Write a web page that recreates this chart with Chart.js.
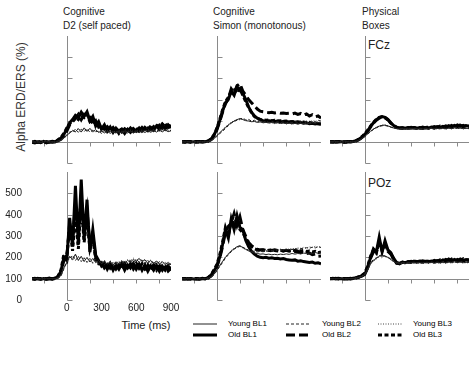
<!DOCTYPE html>
<html>
<head>
<meta charset="utf-8">
<script src="https://cdn.jsdelivr.net/npm/chart.js@4.4.1/dist/chart.umd.min.js"></script>
<style>
  body{margin:0;background:#fff;font-family:"Liberation Sans",Arial,Helvetica,sans-serif;color:#222}
  #fig{position:relative;width:474px;height:366px;overflow:hidden}
  canvas.p{position:absolute}
  .ttl{position:absolute;font-size:10px;line-height:14px;white-space:nowrap}
  .el{position:absolute;font-size:12px;line-height:14px}
  #ylab{position:absolute;left:21px;top:97px;font-size:12px;color:#333;white-space:nowrap;transform:translate(-50%,-50%) rotate(-90deg)}
  #xlab{position:absolute;left:146px;top:325px;font-size:11px;white-space:nowrap;transform:translate(-50%,-50%)}
  .tk{position:absolute;font-size:10px;line-height:12px;white-space:nowrap}
  .lg{position:absolute;font-size:8px;line-height:10px;white-space:nowrap;color:#000}
  .lg svg{position:absolute;left:0;top:0}
</style>
</head>
<body>
<div id="fig">
  <div class="ttl" style="left:63px;top:5px">Cognitive<br>D2 (self paced)</div>
  <div class="ttl" style="left:213px;top:5px">Cognitive<br>Simon (monotonous)</div>
  <div class="ttl" style="left:362px;top:5px">Physical<br>Boxes</div>
  <div class="el" style="left:368px;top:38px">FCz</div>
  <div class="el" style="left:368px;top:176px">POz</div>
  <div id="ylab">Alpha ERD/ERS (%)</div>
  <div id="xlab">Time (ms)</div>
  <div id="legend"></div>
</div>
<script>
// time axis (ms), one sample every 25 ms
const TIME = [-300,-275,-250,-225,-200,-175,-150,-125,-100,
  -75,-50,-25,0,25,50,75,100,125,150,
  175,200,225,250,275,300,325,350,375,400,
  425,450,475,500,525,550,575,600,625,650,
  675,700,725,750,775,800,825,850,875,900];

const X_TICKS = [-200,200,400,600,800];
const Y_TICKS = [0,100,200,300,400,500];
const X_LABELS = [0,300,600,900];
const Y_LABELS = [0,100,200,300,400,500];

const SERIES_NAMES = ["Young BL1","Young BL2","Young BL3","Old BL1","Old BL2","Old BL3"];

// ---- D2, FCz
const D2_FCZ_Y1 = [100,98,101,97,100,102,98,100,99,
  103,108,118,130,142,152,148,162,146,166,
  150,164,148,158,144,152,142,150,140,148,
  142,150,140,148,142,150,141,149,143,151,
  144,152,145,153,146,155,147,156,148,152];
const D2_FCZ_Y2 = [99,101,98,100,97,101,100,98,101,
  104,110,120,133,146,150,158,145,160,148,
  162,145,155,148,150,140,152,145,150,142,
  150,145,152,143,150,146,154,145,152,147,
  155,148,156,150,158,150,160,152,158,153];
const D2_FCZ_Y3 = [101,99,100,98,102,99,101,100,98,
  102,107,116,128,140,155,145,165,150,160,
  148,160,145,155,148,154,146,152,145,150,
  147,153,146,152,148,155,147,154,149,156,
  150,157,151,158,152,160,150,158,152,155];
const D2_FCZ_O1 = [98,95,100,96,102,97,99,103,100,
  108,118,135,160,190,205,225,215,240,220,
  242,200,220,175,195,160,180,150,170,145,
  165,150,160,140,158,145,162,150,165,150,
  162,152,168,155,175,160,182,162,180,165];
const D2_FCZ_O2 = [98,102,97,100,95,101,98,100,103,
  105,112,128,150,180,195,210,230,205,228,
  210,215,185,200,170,180,160,172,155,168,
  150,165,148,162,150,165,150,162,152,168,
  155,165,158,172,160,178,165,185,168,178];
const D2_FCZ_O3 = [100,97,102,99,100,95,101,98,99,
  110,120,140,165,185,200,215,205,225,215,
  230,195,205,178,188,162,175,155,165,150,
  162,140,158,150,160,148,165,155,170,150,
  168,158,175,162,180,170,185,172,178,170];

// ---- Simon, FCz
const SIMON_FCZ_Y1 = [100,99,101,100,98,100,101,99,100,
  102,106,115,128,142,155,168,180,190,198,
  205,210,205,200,198,195,196,192,194,190,
  192,189,191,188,190,187,189,186,188,185,
  187,184,187,185,188,186,190,188,192,190];
const SIMON_FCZ_Y2 = [101,100,99,101,100,98,100,101,99,
  101,105,113,125,138,150,163,176,188,196,
  202,208,212,204,206,198,202,195,200,194,
  198,192,197,191,196,190,195,189,194,190,
  196,191,197,193,198,194,200,196,202,198];
const SIMON_FCZ_Y3 = [99,100,101,99,100,101,99,100,101,
  102,107,116,130,145,158,170,182,192,200,
  206,204,208,200,203,196,199,193,196,190,
  194,188,192,186,190,185,189,184,188,183,
  188,184,189,186,191,188,193,190,195,192];
const SIMON_FCZ_O1 = [100,98,101,99,100,102,100,99,101,
  104,112,130,160,200,245,285,300,340,320,
  360,345,330,300,265,240,222,212,205,200,
  198,200,198,196,198,195,196,194,195,192,
  194,190,192,188,190,186,188,184,186,182];
const SIMON_FCZ_O2 = [99,101,100,98,100,99,101,100,100,
  103,110,128,155,195,240,280,305,350,330,
  365,375,340,320,300,285,270,255,245,242,
  240,238,240,236,238,235,236,234,235,232,
  236,230,234,226,232,222,228,218,222,212];
const SIMON_FCZ_O3 = [101,99,100,101,99,100,98,101,100,
  104,113,132,162,205,250,290,310,335,345,
  330,350,320,290,262,238,220,210,206,204,
  202,204,200,202,198,200,197,198,195,196,
  194,195,192,194,190,192,188,190,185,186];

// ---- Boxes, FCz
const BOXES_FCZ_Y1 = [100,101,99,100,98,100,101,99,100,
  103,108,115,125,138,150,160,168,174,178,
  179,175,170,165,162,161,163,160,162,161,
  163,160,162,160,163,161,164,161,163,162,
  164,161,165,162,166,163,165,162,164,163];
const BOXES_FCZ_Y2 = [99,100,101,100,99,101,100,98,100,
  102,107,114,124,136,148,158,166,172,176,
  177,174,169,166,163,162,164,162,165,163,
  165,162,164,162,165,163,166,163,165,164,
  166,163,167,164,168,165,167,164,166,165];
const BOXES_FCZ_Y3 = [100,99,100,101,100,99,100,101,99,
  103,107,116,126,139,151,161,169,175,179,
  180,176,171,166,163,160,162,159,161,160,
  162,159,161,159,162,160,163,160,162,161,
  163,160,164,161,165,162,164,161,163,162];
const BOXES_FCZ_O1 = [99,100,98,101,100,99,101,100,102,
  105,112,122,135,152,172,190,204,214,219,
  216,206,190,177,169,165,167,164,168,165,
  168,164,167,163,168,165,170,166,172,167,
  173,168,176,170,178,172,179,171,177,173];
const BOXES_FCZ_O2 = [100,99,101,100,98,100,99,101,100,
  104,110,120,132,150,170,188,202,212,216,
  214,204,188,176,168,166,164,167,165,169,
  166,169,165,170,166,171,167,172,168,174,
  170,176,171,178,172,180,173,178,171,175];
const BOXES_FCZ_O3 = [101,100,99,100,101,98,100,100,101,
  106,113,124,138,155,174,192,206,215,218,
  214,203,189,175,168,164,166,163,166,164,
  167,163,166,164,169,165,168,166,171,168,
  172,169,175,171,177,173,180,172,178,174];

// ---- D2, POz
const D2_POZ_Y1 = [99,101,100,98,101,100,99,102,100,
  104,115,150,175,205,190,215,185,205,180,
  200,178,195,175,185,170,178,168,180,165,
  178,170,182,172,185,178,190,182,195,180,
  188,172,185,170,182,168,180,165,175,165];
const D2_POZ_Y2 = [101,100,98,100,99,101,100,99,101,
  103,112,145,180,195,210,185,205,180,198,
  176,195,172,190,170,182,166,178,164,176,
  166,180,168,184,172,186,176,190,178,188,
  172,186,170,182,166,180,164,176,162,172];
const D2_POZ_Y3 = [100,99,101,100,98,100,101,100,99,
  105,118,155,170,200,185,210,190,200,185,
  195,182,190,178,182,172,180,170,176,172,
  180,174,186,178,190,184,196,186,192,184,
  190,178,188,174,184,172,180,170,178,168];
const D2_POZ_O1 = [100,96,102,98,101,97,100,99,103,
  110,135,200,185,385,250,535,260,565,285,
  470,225,330,210,185,160,175,145,170,140,
  165,145,170,140,165,150,172,145,168,140,
  165,135,160,140,162,135,158,140,160,138];
const D2_POZ_O2 = [98,102,99,101,97,100,103,98,100,
  108,130,185,210,330,280,450,300,480,310,
  420,260,300,200,175,165,155,172,150,168,
  145,165,150,170,145,168,150,172,148,165,
  145,162,142,165,145,160,140,162,142,155];
const D2_POZ_O3 = [101,99,100,97,102,98,100,101,99,
  112,140,215,195,360,230,400,240,450,270,
  380,240,290,190,170,175,150,165,145,160,
  150,170,145,165,150,170,145,168,150,170,
  148,165,150,160,140,165,145,155,135,150];

// ---- Simon, POz
const SIMON_POZ_Y1 = [100,98,101,100,99,100,101,99,100,
  102,108,120,140,160,180,200,215,230,240,
  250,255,245,238,230,225,220,218,215,216,
  213,215,212,214,212,215,213,216,214,218,
  215,218,216,220,218,220,218,222,220,222];
const SIMON_POZ_Y2 = [101,100,99,101,100,99,100,101,100,
  101,106,117,136,156,176,196,212,226,238,
  246,252,248,240,234,230,228,225,228,226,
  230,228,232,230,235,232,236,234,238,236,
  240,238,242,240,245,242,248,244,250,246];
const SIMON_POZ_Y3 = [99,100,100,99,101,100,99,100,101,
  103,109,122,142,162,182,202,218,232,242,
  248,252,244,236,232,228,226,229,227,231,
  229,233,231,235,233,237,235,240,238,242,
  240,244,242,247,244,249,246,252,248,250];
const SIMON_POZ_O1 = [98,100,97,101,99,100,98,102,100,
  104,115,135,158,200,260,330,290,380,330,
  395,340,330,280,250,228,215,205,200,198,
  200,196,198,195,196,192,194,190,188,186,
  188,182,184,180,178,176,178,172,174,170];
const SIMON_POZ_O2 = [100,99,101,98,100,101,99,100,101,
  103,112,130,155,195,250,320,345,360,405,
  350,390,330,300,270,255,245,238,235,236,
  233,236,232,235,232,234,230,233,230,232,
  226,228,222,225,218,220,212,215,205,206];
const SIMON_POZ_O3 = [99,101,100,99,101,98,100,101,99,
  105,118,140,165,210,270,340,300,370,360,
  380,330,315,290,265,250,240,235,232,234,
  230,233,230,232,230,233,230,232,230,234,
  232,235,230,232,228,230,225,228,222,225];

// ---- Boxes, POz
const BOXES_POZ_Y1 = [100,101,99,100,101,100,99,101,100,
  103,106,110,118,140,170,185,195,205,210,
  205,200,190,180,175,172,174,172,175,173,
  176,173,175,172,176,174,177,173,176,174,
  177,174,178,175,179,176,178,175,177,176];
const BOXES_POZ_Y2 = [99,100,101,100,99,101,100,100,99,
  102,105,111,120,145,175,190,198,208,212,
  206,202,192,182,176,174,176,174,177,175,
  178,175,177,174,178,176,179,175,178,176,
  179,176,180,177,181,178,180,177,179,178];
const BOXES_POZ_Y3 = [101,99,100,101,100,99,101,100,101,
  104,107,112,122,142,168,182,192,202,206,
  203,198,188,179,173,170,172,170,173,171,
  174,171,173,170,174,172,175,171,174,172,
  175,172,176,173,177,174,176,173,175,174];
const BOXES_POZ_O1 = [100,102,99,101,100,98,101,100,102,
  104,108,112,120,150,200,240,225,295,225,
  278,235,222,195,175,170,178,175,180,178,
  182,180,183,180,182,178,183,180,185,180,
  188,182,192,185,190,183,192,186,190,188];
const BOXES_POZ_O2 = [101,100,102,99,101,100,99,102,100,
  103,107,114,124,155,195,225,230,265,235,
  260,228,215,190,172,172,176,178,177,181,
  178,183,179,184,180,182,178,186,181,188,
  183,190,184,192,182,190,185,193,184,190];
const BOXES_POZ_O3 = [99,101,100,102,99,101,100,99,101,
  105,109,115,126,158,205,235,220,275,230,
  265,230,218,192,174,171,177,174,179,176,
  181,178,182,179,184,180,185,179,186,182,
  186,180,190,184,188,181,190,184,187,185];

// layout of the 2x3 grid (pixels)
const COL_LEFT = [32, 181.5, 330];
const ROW_TOP = [36, 172];
const ROW_H = [127, 128];
const PLOT_W = 139;
const PAD = 32;

// line looks, same order as SERIES_NAMES
const STYLES = [
  {w:1, c:"#222", dash:[]},
  {w:1, c:"#222", dash:[3,2]},
  {w:1, c:"#444", dash:[1,1.5]},
  {w:3, c:"#000", dash:[]},
  {w:3, c:"#000", dash:[9,4]},
  {w:3, c:"#000", dash:[4,2.5]}
];

const PANELS = [
  {row:0, col:0, series:[D2_FCZ_Y1,D2_FCZ_Y2,D2_FCZ_Y3,D2_FCZ_O1,D2_FCZ_O2,D2_FCZ_O3]},
  {row:0, col:1, series:[SIMON_FCZ_Y1,SIMON_FCZ_Y2,SIMON_FCZ_Y3,SIMON_FCZ_O1,SIMON_FCZ_O2,SIMON_FCZ_O3]},
  {row:0, col:2, series:[BOXES_FCZ_Y1,BOXES_FCZ_Y2,BOXES_FCZ_Y3,BOXES_FCZ_O1,BOXES_FCZ_O2,BOXES_FCZ_O3]},
  {row:1, col:0, series:[D2_POZ_Y1,D2_POZ_Y2,D2_POZ_Y3,D2_POZ_O1,D2_POZ_O2,D2_POZ_O3], labels:true},
  {row:1, col:1, series:[SIMON_POZ_Y1,SIMON_POZ_Y2,SIMON_POZ_Y3,SIMON_POZ_O1,SIMON_POZ_O2,SIMON_POZ_O3]},
  {row:1, col:2, series:[BOXES_POZ_Y1,BOXES_POZ_Y2,BOXES_POZ_Y3,BOXES_POZ_O1,BOXES_POZ_O2,BOXES_POZ_O3]}
];

// axes drawn inside each panel: vertical at t=0, horizontal at 100 %
const panelAxes = {
  id: "panelAxes",
  beforeDatasetsDraw(chart){
    const {ctx, scales:{x, y}} = chart;
    const x0 = Math.round(x.getPixelForValue(0)) + 0.5;
    const yb = Math.round(y.getPixelForValue(100)) + 0.5;
    ctx.save();
    ctx.strokeStyle = "#8a8a8a";
    ctx.lineWidth = 1;
    ctx.beginPath();
    ctx.moveTo(x0, y.getPixelForValue(600));
    ctx.lineTo(x0, Math.round(y.getPixelForValue(0)) + 0.5);
    Y_TICKS.forEach(v => {
      const py = Math.round(y.getPixelForValue(v)) + 0.5;
      ctx.moveTo(x0, py); ctx.lineTo(x0 + 5, py);
    });
    ctx.moveTo(x.getPixelForValue(-300), yb);
    ctx.lineTo(x.getPixelForValue(900), yb);
    X_TICKS.forEach(v => {
      const px = Math.round(x.getPixelForValue(v)) + 0.5;
      ctx.moveTo(px, yb); ctx.lineTo(px, yb + 4);
    });
    ctx.stroke();
    ctx.restore();
  }
};

const fig = document.getElementById("fig");

PANELS.forEach(p => {
  const cv = document.createElement("canvas");
  cv.className = "p";
  const w = PLOT_W + PAD*2, h = ROW_H[p.row] + 8 + 30;
  const left = COL_LEFT[p.col] - PAD, top = ROW_TOP[p.row] - 8;
  cv.width = w; cv.height = h;
  cv.style.left = left + "px";
  cv.style.top = top + "px";
  cv.style.width = w + "px"; cv.style.height = h + "px";
  fig.appendChild(cv);

  const chart = new Chart(cv.getContext("2d"), {
    type: "line",
    data: {
      datasets: p.series.map((vals, i) => ({
        label: SERIES_NAMES[i],
        data: TIME.map((t, k) => ({x:t, y:vals[k]})),
        borderColor: STYLES[i].c,
        borderWidth: STYLES[i].w,
        borderDash: STYLES[i].dash,
        pointRadius: 0,
        tension: 0,
        fill: false
      }))
    },
    options: {
      responsive: false,
      animation: false,
      events: [],
      layout: {autoPadding: false, padding: {left: PAD, right: PAD, top: 8, bottom: 30}},
      plugins: {legend: {display:false}, tooltip: {enabled:false}},
      scales: {
        x: {type: "linear", min: -300, max: 900, display: false},
        y: {type: "linear", min: 0, max: 600, display: false}
      }
    },
    plugins: [panelAxes]
  });

  // tick labels of the lower-left panel, placed with the chart's own scales
  if (p.labels){
    const {x, y} = chart.scales;
    Y_LABELS.forEach(v => {
      const d = document.createElement("div");
      d.className = "tk";
      d.textContent = v;
      d.style.right = (474 - 22) + "px";
      d.style.top = (top + y.getPixelForValue(v) - 6) + "px";
      fig.appendChild(d);
    });
    X_LABELS.forEach(v => {
      const d = document.createElement("div");
      d.className = "tk";
      d.textContent = v;
      d.style.left = (left + x.getPixelForValue(v)) + "px";
      d.style.top = "302px";
      d.style.transform = "translateX(-50%)";
      fig.appendChild(d);
    });
  }
});

// legend (two rows: young thin, old thick)
const LEGEND_X = [193, 286, 378];
const LEGEND_Y = [324, 334.5];
const legend = document.getElementById("legend");
SERIES_NAMES.forEach((name, i) => {
  const r = i < 3 ? 0 : 1, c = i % 3, st = STYLES[i];
  const d = document.createElement("div");
  d.className = "lg";
  d.style.left = LEGEND_X[c] + "px";
  d.style.top = (LEGEND_Y[r] - 5) + "px";
  d.style.width = "100px"; d.style.height = "10px";
  d.innerHTML = `<svg width="26" height="10"><line x1="0" y1="5" x2="24" y2="5" stroke="${st.c}" stroke-width="${st.w}" stroke-dasharray="${st.dash.join(" ")}"/></svg><span style="position:absolute;left:${c===1?36:35}px;top:0">${name}</span>`;
  legend.appendChild(d);
});
</script>
</body>
</html>
